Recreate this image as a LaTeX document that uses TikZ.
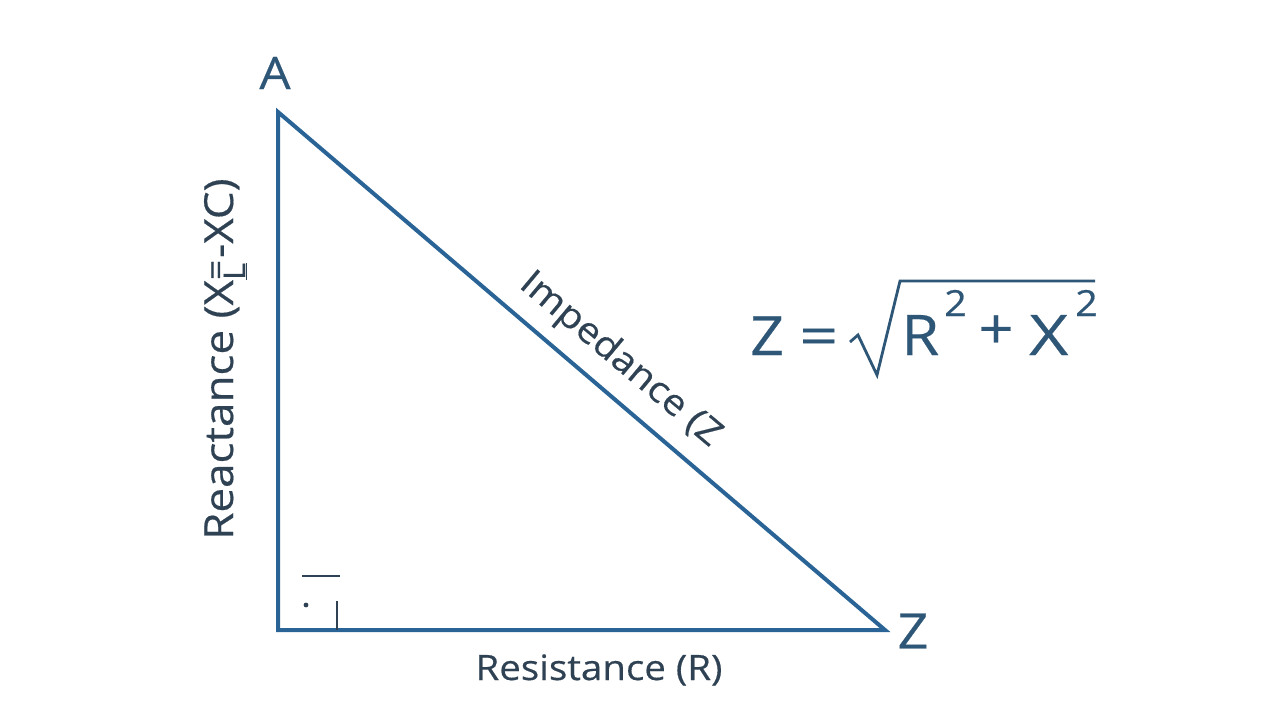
\documentclass[tikz,border=0pt]{standalone}
\usepackage{fontspec}
\setmainfont[FakeStretch=1.1,FakeBold=0.4]{Open Sans}
\definecolor{edgeblue}{HTML}{2A6496}
\definecolor{txtblue}{HTML}{2E5677}
\definecolor{txtdark}{HTML}{2F4254}
\tikzset{
  edge/.style={draw=edgeblue, line width=4pt, line join=miter},
  anglemark/.style={draw=txtdark, line width=2.6pt},
  lbl/.style={inner sep=0pt, text=txtdark},
  vlbl/.style={inner sep=0pt, text=txtblue},
}
\newcommand{\fs}[1]{\fontsize{#1}{#1}\selectfont}
\begin{document}
\begin{tikzpicture}[x=1pt,y=-1pt]
\useasboundingbox[fill=white] (0,0) rectangle (1280,720);
% vertices
\coordinate (va) at (278,112);
\coordinate (vc) at (278,630);
\coordinate (vz) at (885,630);
\draw[edge] (va) -- (vc) -- (vz) -- cycle;
% right angle mark
\coordinate (m1) at (302,576);
\coordinate (m2) at (340,576);
\coordinate (m3) at (337,601);
\coordinate (m4) at (337,630);
\draw[anglemark] (m1) -- (m2);
\draw[anglemark] (m3) -- (m4);
\fill[txtdark] (306,605) circle (2.4);
% vertex labels
\node[vlbl, font=\fs{45}] (la) at (275,73) {A};
\node[vlbl, font=\fs{49}] (lz) at (913,631) {Z};
% side labels
\node[lbl, font=\fs{35}, anchor=base] (lr) at (599,680) {Resistance (R)};
\node[lbl, font=\fs{40}, anchor=base west, rotate=90] (lx) at (233,540)
  {Reactance (X\rlap{\raisebox{-0.3em}{\fs{30}\underline{L}}}\raisebox{0.15em}{\fs{32}=}\kern0.05em-XC)};
\node[lbl, font=\fs{36}, rotate=-40] (li) at (620,360) {Impedance (Z};
% formula
\node[vlbl, font=\fs{54}, anchor=base west] (fz) at (750,355) {Z};
\node[vlbl, font=\fs{54}, anchor=base west, xscale=1.15] (feq) at (799,355) {=};
\coordinate (r1) at (850,342);
\coordinate (r2) at (858,335);
\coordinate (r3) at (877,375);
\coordinate (r4) at (900,281);
\coordinate (r5) at (1095,281);
\draw[txtblue, line width=2.8pt, line join=miter] (r1) -- (r2) -- (r3) -- (r4) -- (r5);
\node[vlbl, font=\fs{56}, anchor=base west] (fr) at (901,355) {R};
\node[vlbl, font=\fs{36}, anchor=base west] (fr2) at (944,316) {2};
\node[vlbl, font=\fs{56}] (fp) at (996,332) {+};
\node[vlbl, font=\fs{56}, anchor=base west, xscale=1.1] (fx) at (1029,355) {X};
\node[vlbl, font=\fs{36}, anchor=base west] (fx2) at (1075,316) {2};
\end{tikzpicture}
\end{document}
